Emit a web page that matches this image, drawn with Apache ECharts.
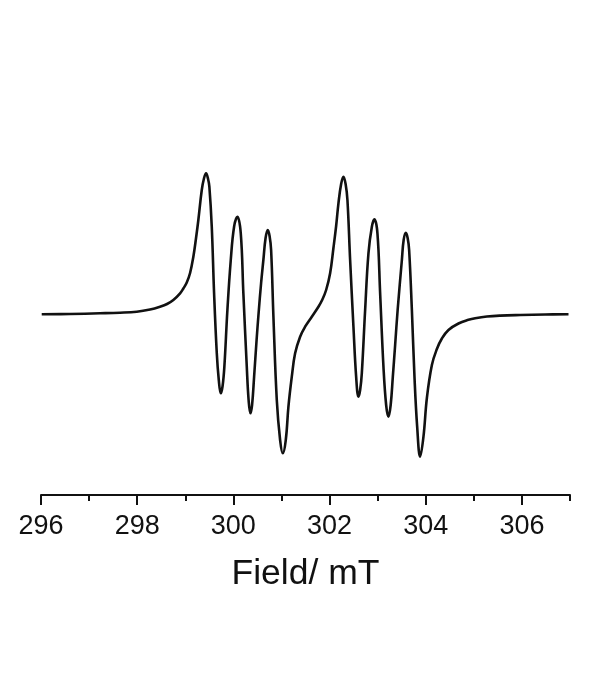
<!DOCTYPE html>
<html>
<head>
<meta charset="utf-8">
<script src="https://cdn.jsdelivr.net/npm/echarts@6/dist/echarts.min.js"></script>
<style>
  html, body { margin: 0; padding: 0; background: #fff; }
  #eprChart { width: 607px; height: 700px; }
</style>
</head>
<body>
<div id="eprChart"></div>
<script>
  // magnetic field (mT)
  const field = [
    296.015, 296.603, 297.227, 297.643, 297.991, 298.268, 298.476, 298.621, 298.752, 298.892,
    298.960, 299.031, 299.100, 299.168, 299.224, 299.272, 299.343, 299.391, 299.432, 299.474,
    299.501, 299.551, 299.599, 299.655, 299.697, 299.738, 299.776, 299.813, 299.876, 299.946,
    300.015, 300.084, 300.154, 300.208, 300.279, 300.317, 300.354, 300.389, 300.431, 300.483,
    300.525, 300.577, 300.624, 300.670, 300.716, 300.753, 300.785, 300.833, 300.903, 300.972,
    301.028, 301.090, 301.145, 301.215, 301.284, 301.388, 301.492, 301.631, 301.769, 301.846,
    301.929, 302.012, 302.081, 302.137, 302.185, 302.241, 302.289, 302.334, 302.372, 302.428,
    302.497, 302.553, 302.601, 302.636, 302.671, 302.740, 302.809, 302.880, 302.934, 302.996,
    303.052, 303.121, 303.177, 303.225, 303.271, 303.316, 303.364, 303.416, 303.504, 303.541,
    303.587, 303.624, 303.655, 303.712, 303.766, 303.822, 303.884, 303.953, 304.024, 304.128,
    304.232, 304.336, 304.473, 304.681, 304.889, 305.029, 305.272, 305.549, 305.965, 306.485,
    306.969
  ];
  // first-derivative EPR signal, arbitrary units
  const signal = [
    -0.3, 0, 0.7, 1.3, 2.3, 4.5, 7.3, 10, 14, 20.7,
    25.5, 31.5, 41, 57.3, 76, 94, 124, 136, 140.7, 135,
    127.3, 87.3, 21, -39, -66, -79.3, -72, -52.7, 4, 54,
    87.3, 97.3, 80.7, 20.7, -52.7, -86, -99.3, -91, -63, -26,
    1, 31, 54, 76, 84, 78, 64, -2.7, -86, -126,
    -139.3, -126, -92.7, -62.7, -39.3, -22.7, -12.7, -2.7, 7.3, 14,
    24, 40.7, 66, 88, 110.7, 130, 137.3, 130, 114, 54,
    -12.7, -62.7, -82.7, -76, -59.3, 4, 60.7, 87.3, 94.7, 80.7,
    20.7, -52.7, -91, -102.7, -91, -62.7, -31, 4, 54, 74,
    81.3, 76, 64, 4, -62.7, -112.7, -142.7, -122.7, -84, -51,
    -35, -24.5, -16, -9.5, -5.8, -4.2, -2.5, -1.6, -1, -0.5,
    -0.3
  ];
  const majorTicks = [296, 298, 300, 302, 304, 306];
  const minorTicks = [297, 299, 301, 303, 305, 307];

  const myChart = echarts.init(document.getElementById('eprChart'));
  const lineColor = '#111';
  const fontFamily = '"Liberation Sans", Arial, sans-serif';

  const option = {
    animation: false,
    backgroundColor: '#fff',
    grid: {
      left: 41,
      right: 37,
      top: 135,
      bottom: 205
    },
    xAxis: [
      {
        type: 'value',
        min: 296,
        max: 307,
        name: 'Field/ mT',
        nameLocation: 'middle',
        nameGap: 61,
        nameTextStyle: {
          color: lineColor,
          fontSize: 35.5,
          fontFamily
        },
        axisLine: {
          show: true,
          onZero: false,
          lineStyle: { color: lineColor, width: 2 }
        },
        axisTick: {
          show: true,
          length: 10,
          lineStyle: { color: lineColor, width: 2 },
          customValues: majorTicks
        },
        axisLabel: {
          margin: 18,
          color: lineColor,
          fontSize: 27,
          fontFamily,
          customValues: majorTicks
        },
        splitLine: { show: false }
      },
      {
        type: 'value',
        min: 296,
        max: 307,
        position: 'bottom',
        axisLine: { show: false, onZero: false },
        axisTick: {
          show: true,
          length: 6,
          lineStyle: { color: lineColor, width: 2 },
          customValues: minorTicks
        },
        axisLabel: { show: false },
        splitLine: { show: false }
      }
    ],
    yAxis: {
      type: 'value',
      min: -181,
      max: 179,
      show: false
    },
    series: [
      {
        type: 'line',
        xAxisIndex: 0,
        data: field.map((f, i) => [f, signal[i]]),
        showSymbol: false,
        smooth: 0.4,
        lineStyle: { color: lineColor, width: 2.6 }
      }
    ]
  };
  myChart.setOption(option);
</script>
</body>
</html>
